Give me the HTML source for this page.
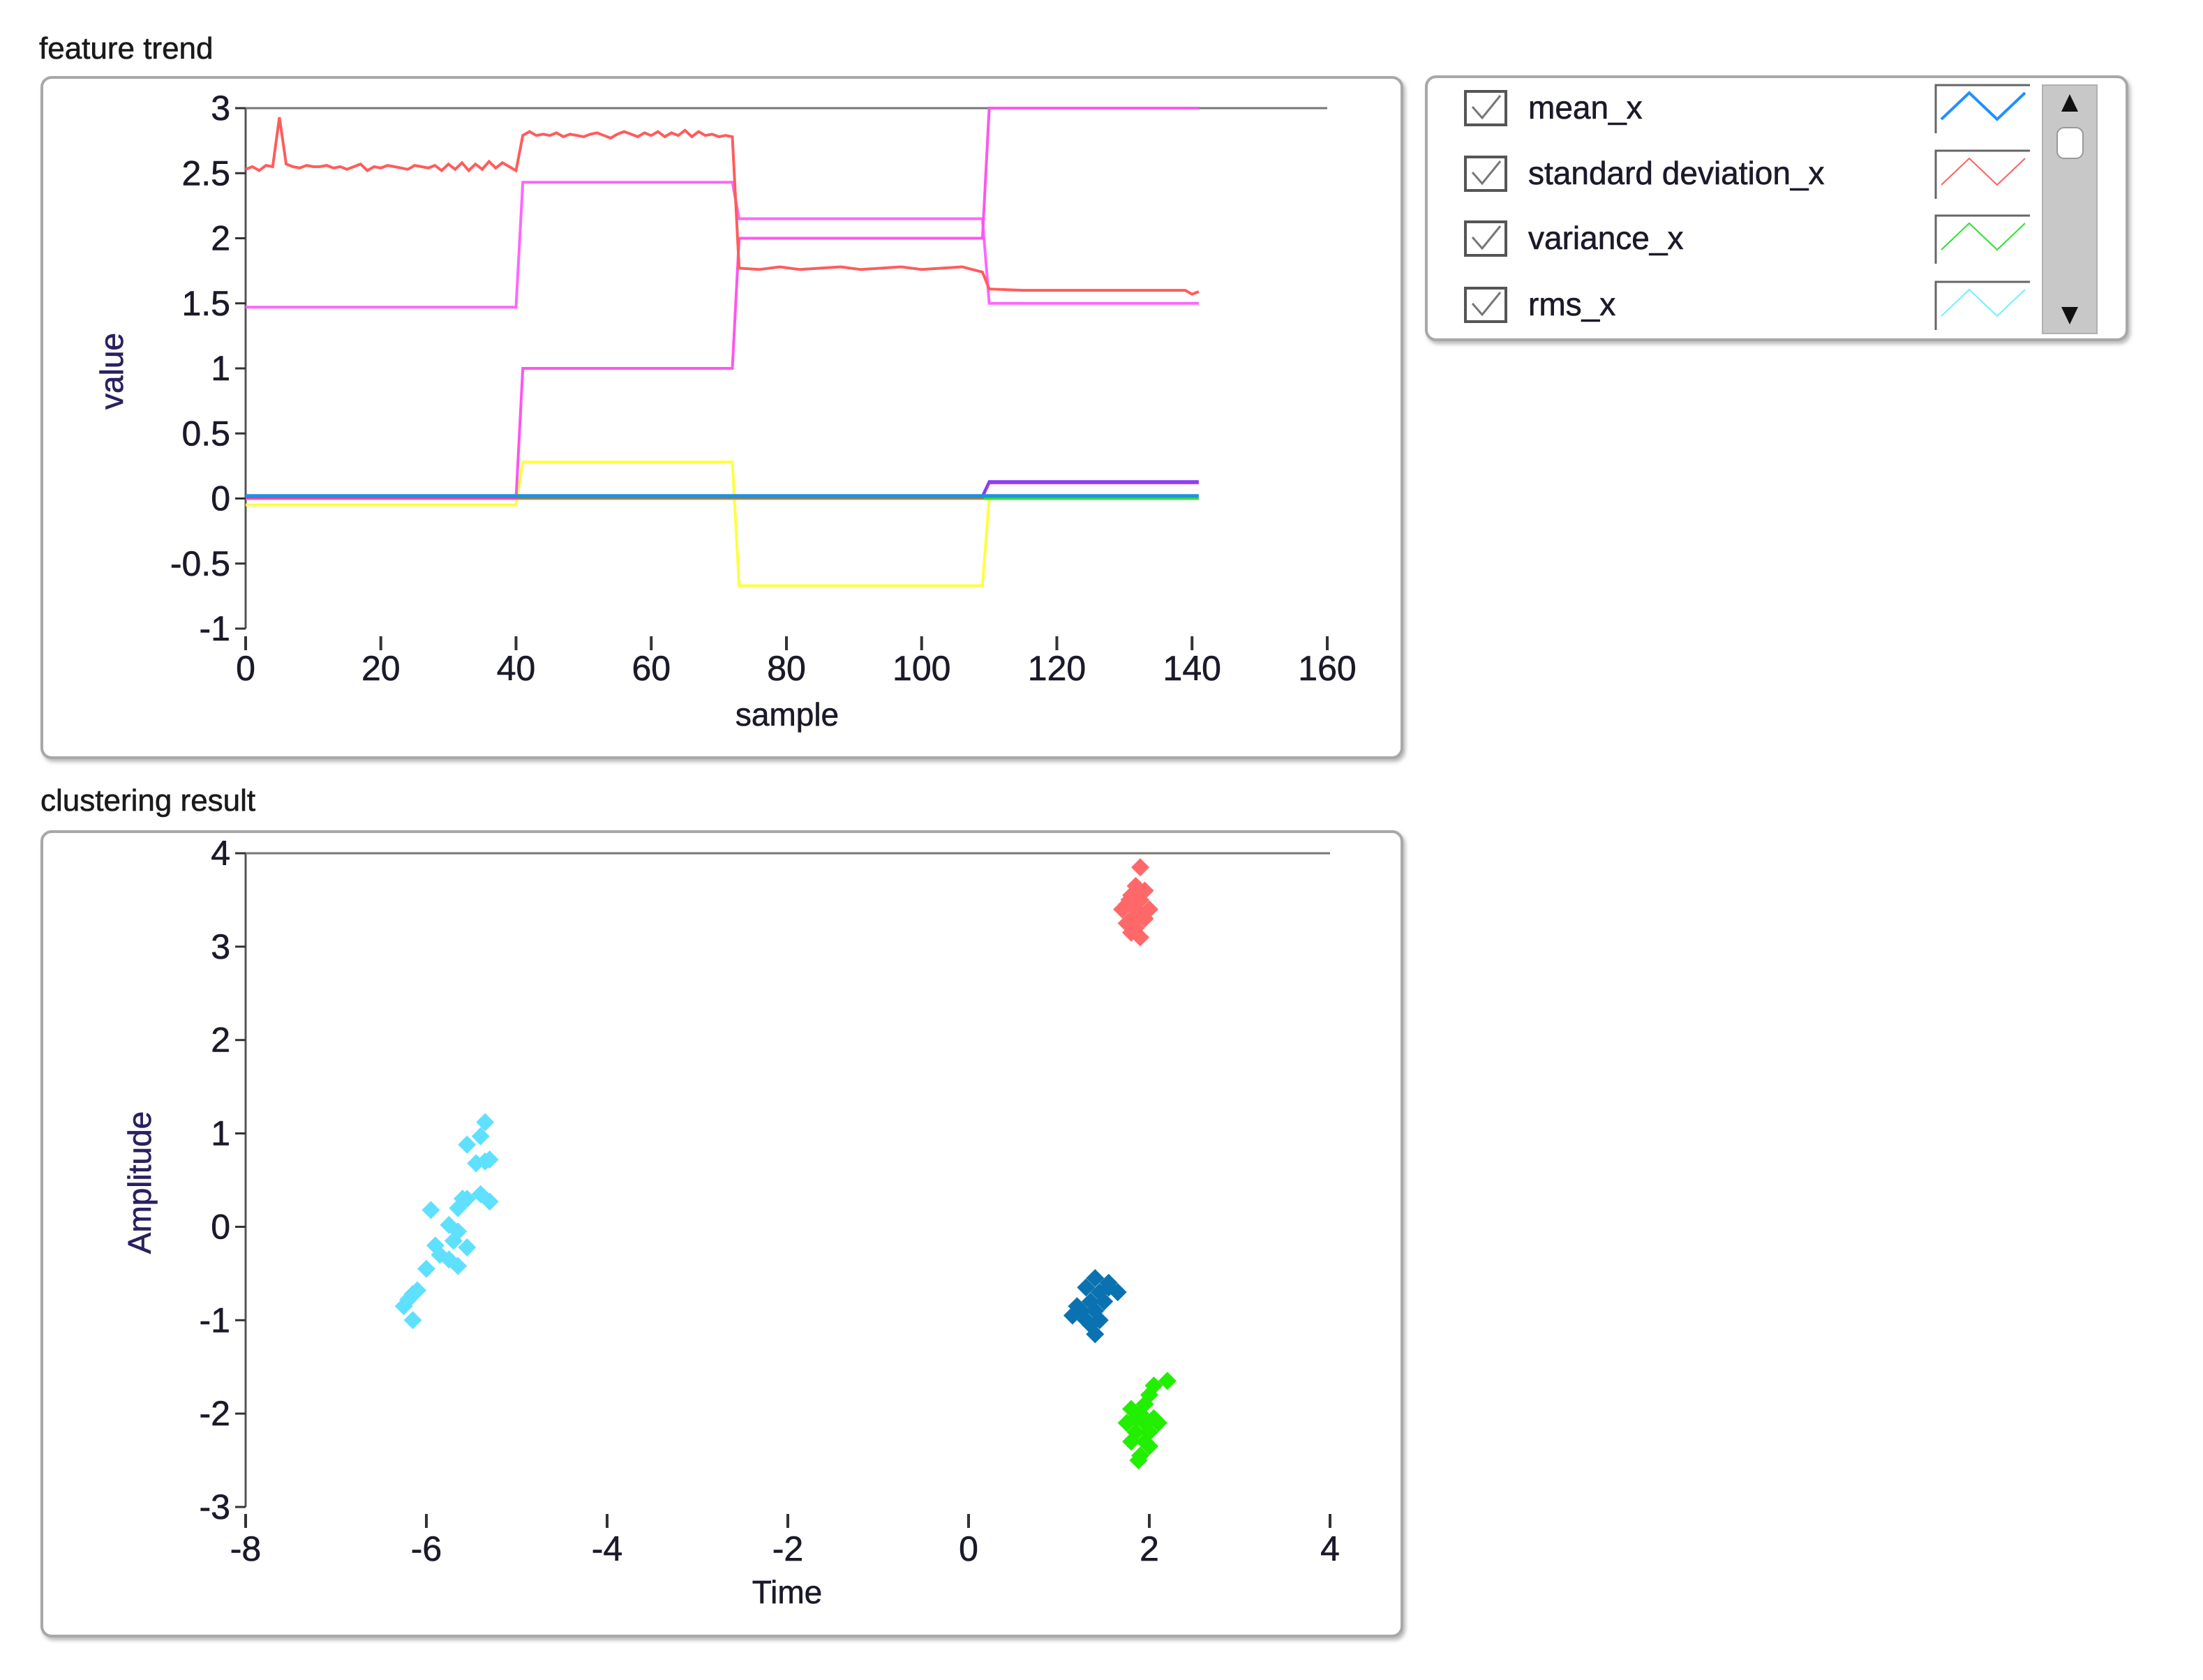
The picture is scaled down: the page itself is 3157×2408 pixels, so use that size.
<!DOCTYPE html>
<html><head><meta charset="utf-8"><style>
html,body{margin:0;padding:0;background:#fff;}
svg{display:block;font-family:"Liberation Sans",sans-serif;}
text{stroke:currentColor;stroke-width:0.6px;}
</style></head><body>
<svg id="root" width="3157" height="2408" viewBox="0 0 3157 2408" xmlns="http://www.w3.org/2000/svg">
<defs>
<filter id="sh" x="-5%" y="-5%" width="110%" height="110%"><feDropShadow dx="3" dy="4" stdDeviation="3" flood-color="#888" flood-opacity="0.6"/></filter>
</defs>
<text x="56" y="84" font-size="44" fill="#1a1a1a" color="#1a1a1a">feature trend</text>
<rect x="60" y="111" width="1949" height="975" rx="14" fill="#fff" stroke="#a8a8a8" stroke-width="4" filter="url(#sh)"/>
<text x="58" y="1162" font-size="44" fill="#1a1a1a" color="#1a1a1a">clustering result</text>
<rect x="60" y="1192" width="1949" height="1153" rx="14" fill="#fff" stroke="#a8a8a8" stroke-width="4" filter="url(#sh)"/>
<g id="trend"></g>
<g id="scatter"></g>
<g id="legend">
<rect x="2044" y="110" width="1004" height="377" rx="14" fill="#fff" stroke="#a8a8a8" stroke-width="4" filter="url(#sh)"/>
<rect x="2927" y="122" width="78" height="356" fill="#c8c8c8" stroke="#b0b0b0" stroke-width="2"/>
<rect x="2948" y="183" width="37" height="44" rx="10" fill="#fff" stroke="#999" stroke-width="2"/>
<polygon points="2966,135 2954,160 2978,160" fill="#111"/>
<polygon points="2966,465 2954,440 2978,440" fill="#111"/>
</g>
</svg>
<script>
const NS="http://www.w3.org/2000/svg";
// ---- trend data ----
const xTicks=[0,20,40,60,80,100,120,140,160];
const yTicks=[3,2.5,2,1.5,1,0.5,0,-0.5,-1];
const yTickLabels=["3","2.5","2","1.5","1","0.5","0","-0.5","-1"];
const stdX=[0,1,2,3,4,5,6,7,8,9,10,11,12,13,14,15,16,17,18,19,20,21,22,23,24,25,26,27,28,29,30,31,32,33,34,35,36,37,38,39,40,41,42,43,44,45,46,47,48,49,50,51,52,53,54,55,56,57,58,59,60,61,62,63,64,65,66,67,68,69,70,71,72,73,76,79,82,85,88,91,94,97,100,103,106,109,110,115,120,125,130,135,139,140,141];
const stdY=[2.53,2.55,2.52,2.56,2.55,2.93,2.57,2.55,2.54,2.56,2.55,2.55,2.56,2.54,2.55,2.53,2.55,2.57,2.52,2.55,2.54,2.56,2.55,2.54,2.53,2.56,2.55,2.54,2.56,2.52,2.57,2.53,2.58,2.52,2.57,2.53,2.59,2.54,2.58,2.55,2.52,2.79,2.82,2.79,2.80,2.79,2.81,2.78,2.80,2.79,2.78,2.80,2.81,2.79,2.77,2.80,2.82,2.80,2.78,2.81,2.79,2.82,2.78,2.81,2.79,2.83,2.78,2.82,2.79,2.80,2.78,2.79,2.78,1.77,1.76,1.78,1.76,1.77,1.78,1.76,1.77,1.78,1.76,1.77,1.78,1.74,1.61,1.6,1.6,1.6,1.6,1.6,1.6,1.57,1.59];
const stepX=[0,40,41,72,73,109,110,141];
const magAY=[1.47,1.47,2.43,2.43,2.15,2.15,1.5,1.5];
const magBY=[0,0,1,1,2,2,3,3];
const yellowY=[-0.05,-0.05,0.28,0.28,-0.67,-0.67,0,0];
const smallX=[0,109,110,141];
const smallY=[0.01,0.01,0.12,0.12];
const smallY2=[0.02,0.02,0.13,0.13];
const meanY=[0.02,0.02,0.02,0.02];
const greenY=[0,0,0,0];
// ---- scatter data ----
const sxTicks=[-8,-6,-4,-2,0,2,4];
const syTicks=[4,3,2,1,0,-1,-2,-3];
const redPts=[[1.9,3.85],[1.85,3.65],[1.95,3.6],[1.8,3.55],[1.9,3.5],[1.75,3.45],[1.85,3.4],[2.0,3.4],[1.7,3.4],[1.9,3.35],[1.8,3.3],[1.95,3.3],[1.75,3.25],[1.85,3.2],[1.8,3.15],[1.9,3.1],[1.85,3.28],[1.78,3.5]];
const bluePts=[[1.4,-0.55],[1.55,-0.6],[1.3,-0.65],[1.65,-0.7],[1.45,-0.7],[1.35,-0.8],[1.5,-0.8],[1.25,-0.9],[1.4,-0.9],[1.15,-0.95],[1.3,-1.0],[1.45,-1.0],[1.35,-1.05],[1.4,-1.15],[1.55,-0.65],[1.2,-0.85]];
const greenPts=[[2.2,-1.65],[2.05,-1.7],[2.0,-1.8],[1.95,-1.9],[1.8,-1.95],[1.9,-2.0],[2.05,-2.05],[1.75,-2.1],[1.95,-2.1],[1.85,-2.2],[2.0,-2.2],[1.8,-2.3],[1.95,-2.3],[2.0,-2.35],[1.9,-2.45],[1.88,-2.5],[2.1,-2.1],[1.85,-2.05]];
const cyanPts=[[-5.35,1.12],[-5.4,0.97],[-5.55,0.88],[-5.45,0.68],[-5.3,0.72],[-5.35,0.7],[-5.4,0.35],[-5.3,0.27],[-5.55,0.3],[-5.65,0.2],[-5.6,0.3],[-5.95,0.18],[-5.75,0.02],[-5.65,-0.05],[-5.7,-0.15],[-5.55,-0.22],[-5.9,-0.2],[-5.85,-0.3],[-5.75,-0.35],[-5.65,-0.42],[-6.0,-0.45],[-6.1,-0.68],[-6.15,-0.72],[-6.25,-0.85],[-6.2,-0.78],[-6.15,-1.0]];

function el(tag,attrs,parent){const e=document.createElementNS(NS,tag);for(const k in attrs)e.setAttribute(k,attrs[k]);parent.appendChild(e);return e;}
const T=document.getElementById('trend');
const tx=v=>352+(v-0)/(160-0)*(1902-352);
const ty=v=>155+(3-v)/(3-(-1))*(901-155);
let a=el('line',{x1:352,y1:155,x2:352,y2:901,stroke:'#555','stroke-width':3},T);


a=el('line',{x1:352,y1:155,x2:1902,y2:155,stroke:'#777','stroke-width':3},T);


yTicks.forEach((v,i)=>{
  el('line',{x1:337,y1:ty(v),x2:352,y2:ty(v),stroke:'#333','stroke-width':3},T);
  const t=el('text',{x:330,y:ty(v)+17,'font-size':50,'text-anchor':'end',fill:'#1a1a2a',color:'#1a1a2a'},T);
  t.textContent=yTickLabels[i];
  
  
});
xTicks.forEach(v=>{
  el('line',{x1:tx(v),y1:912,x2:tx(v),y2:932,stroke:'#333','stroke-width':4},T);
  const t=el('text',{x:tx(v),y:975,'font-size':50,'text-anchor':'middle',fill:'#1a1a2a',color:'#1a1a2a'},T);
  t.textContent=String(v);
  
  
});
let lab=el('text',{x:1128,y:1040,'font-size':46,'text-anchor':'middle',fill:'#1a1a2a',color:'#1a1a2a'},T);
lab.textContent='sample';


lab=el('text',{x:0,y:0,'font-size':46,'text-anchor':'middle',fill:'#2a2060',color:'#2a2060',transform:'translate(176,532) rotate(-90)'},T);
lab.textContent='value';


function series(xs,ys,color,name,w){
  const p=xs.map((x,i)=>tx(x).toFixed(1)+','+ty(ys[i]).toFixed(1)).join(' ');
  const l=el('polyline',{points:p,fill:'none',stroke:color,'stroke-width':w||4},T);
  
  
}
series(stepX,yellowY,'#ffff40','series-yellow');
series(smallX,greenY,'#30e030','series-variance');
series(stepX,magAY,'#ff66ff','series-magenta-a');
series(stepX,magBY,'#ff55ee','series-magenta-b');
series(stdX,stdY,'#ff5c5c','series-standard-deviation');
series(smallX,smallY,'#ff3070','series-small-red');
series(smallX,smallY2,'#8040ff','series-small-purple');
series(smallX,meanY,'#2090e0','series-mean',5);
const S=document.getElementById('scatter');
const sx=v=>352+(v+8)/12*(1906-352);
const sy=v=>1223+(4-v)/7*(2160-1223);
a=el('line',{x1:352,y1:1223,x2:352,y2:2160,stroke:'#555','stroke-width':3},S);


a=el('line',{x1:352,y1:1223,x2:1906,y2:1223,stroke:'#777','stroke-width':3},S);


syTicks.forEach(v=>{
  el('line',{x1:337,y1:sy(v),x2:352,y2:sy(v),stroke:'#333','stroke-width':3},S);
  const t=el('text',{x:330,y:sy(v)+17,'font-size':50,'text-anchor':'end',fill:'#1a1a2a',color:'#1a1a2a'},S);
  t.textContent=String(v);
  
  
});
sxTicks.forEach(v=>{
  el('line',{x1:sx(v),y1:2170,x2:sx(v),y2:2190,stroke:'#333','stroke-width':4},S);
  const t=el('text',{x:sx(v),y:2237,'font-size':50,'text-anchor':'middle',fill:'#1a1a2a',color:'#1a1a2a'},S);
  t.textContent=String(v);
  
  
});
lab=el('text',{x:1128,y:2298,'font-size':46,'text-anchor':'middle',fill:'#1a1a2a',color:'#1a1a2a'},S);
lab.textContent='Time';


lab=el('text',{x:0,y:0,'font-size':46,'text-anchor':'middle',fill:'#2a2060',color:'#2a2060',transform:'translate(216,1695) rotate(-90)'},S);
lab.textContent='Amplitude';


function pts(arr,color,name){
  arr.forEach(p=>{
    const cx=sx(p[0]),cy=sy(p[1]),r=13;
    const d=el('polygon',{points:`${cx},${cy-r} ${cx+r},${cy} ${cx},${cy+r} ${cx-r},${cy}`,fill:color},S);
    
    
  });
}
pts(redPts,'#ff6868','cluster-red-point');
pts(bluePts,'#0a72b0','cluster-blue-point');
pts(greenPts,'#22ee00','cluster-green-point');
pts(cyanPts,'#60e0ff','cluster-cyan-point');
const L=document.getElementById('legend');
const legNames=['mean_x','standard deviation_x','variance_x','rms_x'];
const legColors=['#2090ff','#ff6060','#30e030','#70f0ff'];
const rowY=[155,249,342,437];
legNames.forEach((n,i)=>{
  const y=rowY[i];
  const cb=el('rect',{x:2100,y:y-24,width:58,height:48,fill:'#fff',stroke:'#555','stroke-width':4},L);
  
  
  el('polyline',{points:`${2110},${y-2} ${2124},${y+14} ${2150},${y-18}`,fill:'none',stroke:'#777','stroke-width':3},L);
  const t=el('text',{x:2190,y:y+15,'font-size':46,fill:'#1a1a2a',color:'#1a1a2a'},L);
  t.textContent=n;
  
  
  const sw=el('polyline',{points:`2774,${y+36} 2774,${y-33} 2909,${y-33}`,fill:'none',stroke:'#666','stroke-width':3},L);
  
  
  const ln=el('polyline',{points:`2782,${y+16} 2822,${y-22} 2862,${y+16} 2902,${y-22}`,fill:'none',stroke:legColors[i],'stroke-width':i==0?4:2},L);
  
  
});
</script>
</body></html>
